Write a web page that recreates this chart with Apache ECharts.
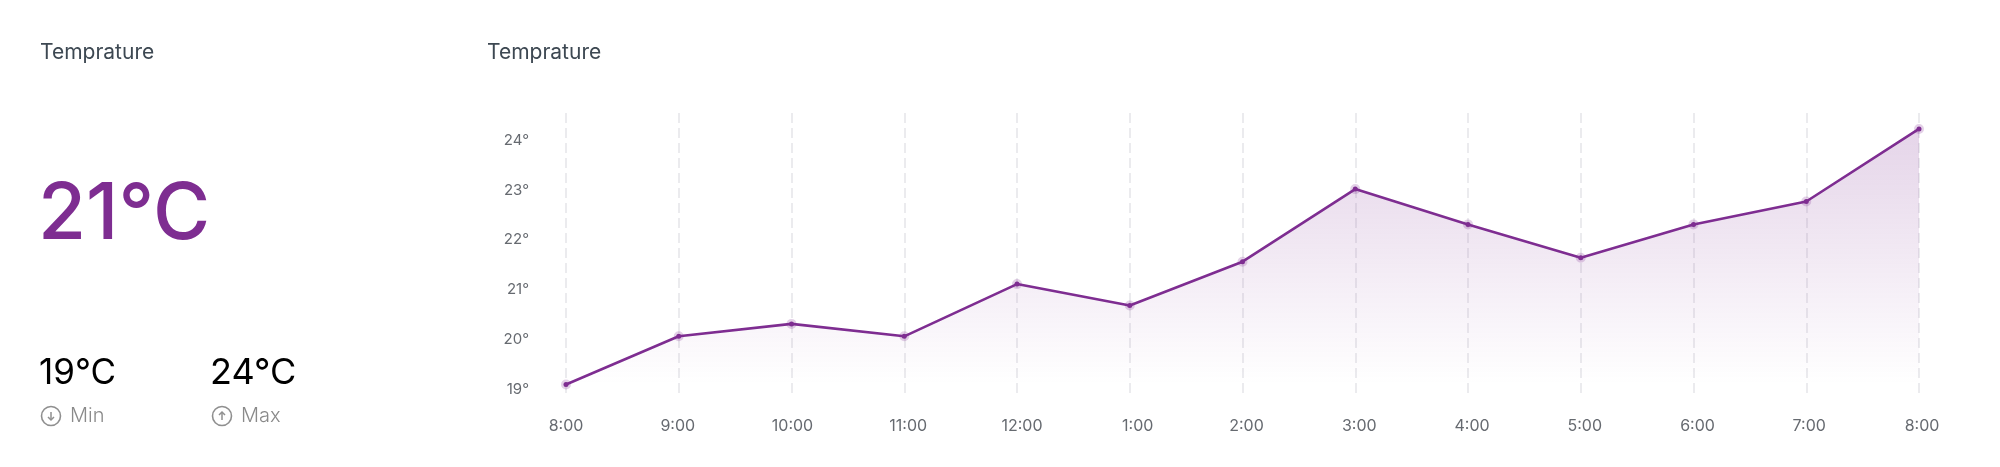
<!DOCTYPE html>
<html><head><meta charset="utf-8">
<style>html,body{margin:0;padding:0;background:#fff}#c{width:2000px;height:467px}</style>
<script src="https://cdn.jsdelivr.net/npm/echarts@6/dist/echarts.min.js"></script></head>
<body><div id="c"></div>
<script>
const categories = ['8:00','9:00','10:00','11:00','12:00','1:00','2:00','3:00','4:00','5:00','6:00','7:00','8:00'];
const temperature = [19.09,20.06,20.31,20.06,21.11,20.68,21.56,23.02,22.31,21.64,22.31,22.77,24.23];
const yTicks = [19,20,21,22,23,24];
const panelTitle = 'Temprature';
const currentText = '21°C', minText = '19°C', maxText = '24°C';
const FONT = 'Inter';
const PURPLE = '#7e2d91';
const labelShift = [0,-1,1,4,5,8,4,4,4,4,4,3,3];
const chart = echarts.init(document.getElementById('c'), null, {renderer:'canvas'});
function icon(cx, cy, up){
  const d = up ? -1 : 1;
  return [
    {type:'circle',shape:{cx,cy,r:9.5},style:{fill:'none',stroke:'#8f8f8f',lineWidth:1.6}},
    {type:'line',shape:{x1:cx,y1:cy-4*d,x2:cx,y2:cy+4*d},style:{stroke:'#8f8f8f',lineWidth:1.5}},
    {type:'polyline',shape:{points:[[cx-3,cy+1*d],[cx,cy+4*d],[cx+3,cy+1*d]]},style:{stroke:'#8f8f8f',lineWidth:1.5,fill:'none'}}
  ];
}
function txt(x,y,text,size,fill,weight){
  return {type:'text',x,y,style:{text,font:(weight||400)+' '+size+'px '+FONT,fill,textVerticalAlign:'middle',verticalAlign:'middle'}};
}
const rich = {};
labelShift.forEach((s,i)=>{ rich['s'+i]={padding:s>=0?[0,0,0,2*s]:[0,-2*s,0,0],color:'#666a70',fontFamily:FONT,fontSize:16}; });
chart.setOption({
  animation:false,
  grid:{left:566,right:81,top:113,bottom:72},
  xAxis:{type:'category',boundaryGap:false,data:categories,
    axisLine:{show:false},axisTick:{show:false},
    axisLabel:{color:'#666a70',fontFamily:FONT,fontSize:16,margin:23,interval:0,rich,
      formatter:(v,i)=>'{s'+i+'|'+v+'}'},
    splitLine:{show:true,interval:0,lineStyle:{color:'#e7e6ea',width:1.6,type:[10,5]}}},
  yAxis:{type:'value',min:18.88,max:24.55,
    axisLine:{show:false},axisTick:{show:false},splitLine:{show:false},
    axisLabel:{color:'#666a70',fontFamily:FONT,fontSize:15,margin:37,customValues:yTicks,formatter:v=>v+'°'}},
  series:[{type:'line',data:temperature,smooth:false,symbol:'circle',symbolSize:5,showSymbol:true,
    lineStyle:{color:PURPLE,width:2.6},
    itemStyle:{color:PURPLE,borderColor:'rgba(126,45,145,0.22)',borderWidth:5},
    areaStyle:{origin:'start',color:{type:'linear',x:0,y:0,x2:0,y2:1,colorStops:[
      {offset:0,color:'rgba(126,45,145,0.29)'},{offset:0.96,color:'rgba(126,45,145,0)'},{offset:1,color:'rgba(126,45,145,0)'}]}}}],
  graphic:{elements:[
    txt(40,53,panelTitle,21,'#3d4852',400),
    txt(487,53,panelTitle,21,'#3d4852',400),
    txt(38,216,currentText,78,PURPLE,500),
    txt(39,373,minText,35,'#000',400),
    txt(210,373,maxText,36,'#000',400),
    txt(70,416,'Min',20,'#8a8a8a',300),
    txt(241,416,'Max',20,'#8a8a8a',300),
    ...icon(51,416,false),...icon(222,416,true)
  ]}
});
</script></body></html>
